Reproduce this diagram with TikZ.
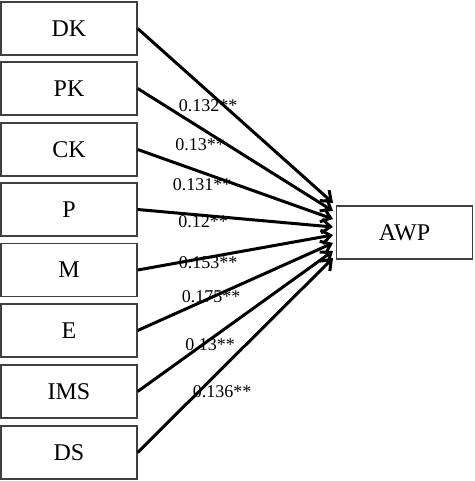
\documentclass[tikz,border=0pt]{standalone}
\usepackage{fontspec}
\setmainfont{Liberation Serif}
\usetikzlibrary{arrows.meta}
\begin{document}
\begin{tikzpicture}[x=1pt,y=-1pt,
  box/.style={draw=black!75,line width=1.3pt,minimum width=136pt,minimum height=53pt,inner sep=0pt,font=\fontsize{24}{28}\selectfont},
  link/.style={line width=3pt,-{Straight Barb[length=9pt,width=14pt]}},
  coef/.style={font=\fontsize{18}{21}\selectfont,inner sep=0pt}]
  \useasboundingbox (0,0) rectangle (474,481);
  % 自变量
  \node[box] (DK) at (69,28.5) {DK};
  \node[box] (PK) at (69,88.5) {PK};
  \node[box] (CK) at (69,149.5) {CK};
  \node[box] (P) at (69,209.5) {P};
  \node[box] (M) at (69,270) {M};
  \node[box] (E) at (69,330.5) {E};
  \node[box] (IMS) at (69,391.5) {IMS};
  \node[box] (DS) at (69,452.5) {DS};
  % 因变量
  \node[box] (AWP) at (404.5,232.5) {AWP};
  % 箭头终点
  \coordinate (tDK) at (333,203);
  \coordinate (tPK) at (333,211);
  \coordinate (tCK) at (333,219);
  \coordinate (tP) at (333,227);
  \coordinate (tM) at (333,235);
  \coordinate (tE) at (333,243);
  \coordinate (tIMS) at (333,251);
  \coordinate (tDS) at (333,258);
  % 路径
  \draw[link] (DK.east) -- (tDK);
  \draw[link] (PK.east) -- (tPK);
  \draw[link] (CK.east) -- (tCK);
  \draw[link] (P.east) -- (tP);
  \draw[link] (M.east) -- (tM);
  \draw[link] (E.east) -- (tE);
  \draw[link] (IMS.east) -- (tIMS);
  \draw[link] (DS.east) -- (tDS);
  % 路径系数
  \node[coef] (cDK) at (208,106) {0.132**};
  \node[coef] (cPK) at (200,145) {0.13**};
  \node[coef] (cCK) at (202,185) {0.131**};
  \node[coef] (cP) at (203,222) {0.12**};
  \node[coef] (cM) at (208,263) {0.153**};
  \node[coef] (cE) at (211,297) {0.175**};
  \node[coef] (cIMS) at (210,345) {0.13**};
  \node[coef] (cDS) at (222,392) {0.136**};
\end{tikzpicture}
\end{document}
